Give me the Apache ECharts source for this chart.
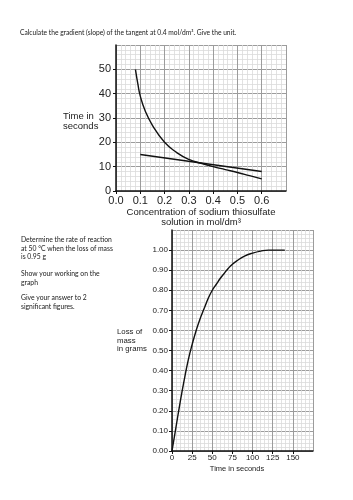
<!DOCTYPE html>
<html><head><meta charset="utf-8">
<script src="https://cdn.jsdelivr.net/npm/echarts@6/dist/echarts.min.js"></script>
<style>html,body{margin:0;padding:0;background:#fff}#c{width:353px;height:500px}</style>
</head><body><div id="c"></div>
<script>
// Chart 1: time vs concentration
const concX = [0.08, 0.09, 0.10, 0.12, 0.15, 0.20, 0.25, 0.30, 0.35, 0.40, 0.45, 0.50, 0.55, 0.60];
const timeY = [50, 44, 39, 33, 27, 20, 15.8, 13.0, 11.4, 10.0, 8.8, 7.6, 6.3, 5.0];
const tangentX = [0.10, 0.60];
const tangentY = [15, 8];

// Chart 2: loss of mass vs time
const timeX = [0, 5, 10, 15, 20, 25, 30, 35, 40, 45, 50, 55, 60, 65, 70, 75, 80, 90, 100, 110, 120, 130, 140];
const massY = [0, 0.12, 0.24, 0.35, 0.45, 0.53, 0.60, 0.66, 0.71, 0.76, 0.80, 0.83, 0.86, 0.885, 0.91, 0.93, 0.945, 0.97, 0.985, 0.995, 1.0, 1.0, 1.0];

const textFont = 'Lato';
const chartFont = 'Liberation Sans';
const majorC = '#9c9c9c', minorC = '#dadada';

function zip(a, b) { return a.map((v, i) => [v, b[i]]); }

function valAxis(gi, min, max, interval, fmt, labelSize, margin) {
  return {
    type: 'value', gridIndex: gi, min: min, max: max, interval: interval,
    axisLine: { show: true, onZero: false, lineStyle: { color: '#111', width: 1.5 } },
    axisTick: { show: true, length: 3, lineStyle: { color: '#111' } },
    axisLabel: { show: true, fontFamily: chartFont, fontSize: labelSize, color: '#222',
      margin: margin, showMaxLabel: false, formatter: fmt },
    splitLine: { show: true, lineStyle: { color: majorC, width: 1 } },
    minorTick: { show: false, splitNumber: 5 },
    minorSplitLine: { show: true, lineStyle: { color: minorC, width: 0.8 } }
  };
}

function txt(x, y, text, font, align, lh) {
  return { type: 'text', x: x, y: y, style: { text: text, font: font, fill: '#1a1a1a',
    align: align || 'left', verticalAlign: 'top', lineHeight: lh } };
}

const chart = echarts.init(document.getElementById('c'), null, { renderer: 'canvas' });
chart.setOption({
  animation: false,
  backgroundColor: '#fff',
  grid: [
    { left: 116, top: 45, width: 170, height: 146 },
    { left: 172, top: 230, width: 141, height: 221 }
  ],
  xAxis: [
    valAxis(0, 0, 0.7, 0.1, v => v.toFixed(1), 11, 4),
    valAxis(1, 0, 175, 25, v => String(Math.round(v)), 8, 3)
  ],
  yAxis: [
    valAxis(0, 0, 60, 10, v => String(Math.round(v)), 11, 5),
    valAxis(1, 0, 1.1, 0.1, v => v.toFixed(2), 8, 4)
  ],
  series: [
    { type: 'line', xAxisIndex: 0, yAxisIndex: 0, data: zip(concX, timeY), smooth: 0.5,
      showSymbol: false, lineStyle: { color: '#111', width: 1.4 } },
    { type: 'line', xAxisIndex: 0, yAxisIndex: 0, data: zip(tangentX, tangentY),
      showSymbol: false, lineStyle: { color: '#111', width: 1.4 } },
    { type: 'line', xAxisIndex: 1, yAxisIndex: 1, data: zip(timeX, massY), smooth: 0.5,
      showSymbol: false, lineStyle: { color: '#111', width: 1.4 } }
  ],
  graphic: [
    txt(20, 29, 'Calculate the gradient (slope) of the tangent at 0.4 mol/dm\u00b3. Give the unit.', '6.7px ' + textFont),
    txt(63, 111, 'Time in\nseconds', '9.5px ' + chartFont, 'left', 10),
    txt(201, 207, 'Concentration of sodium thiosulfate\nsolution in mol/dm\u00b3', '9.5px ' + chartFont, 'center', 10),
    txt(21, 236, 'Determine the rate of reaction\nat 50 \u00b0C when the loss of mass\nis 0.95 g', '6.8px ' + textFont, 'left', 8.5),
    txt(21, 269, 'Show your working on the\ngraph', '6.8px ' + textFont, 'left', 9),
    txt(21, 293, 'Give your answer to 2\nsignificant figures.', '6.8px ' + textFont, 'left', 9),
    txt(117, 328, 'Loss of\nmass\nin grams', '7.8px ' + chartFont, 'left', 8.5),
    txt(237, 465, 'Time in seconds', '7.5px ' + chartFont, 'center')
  ]
});
</script></body></html>
